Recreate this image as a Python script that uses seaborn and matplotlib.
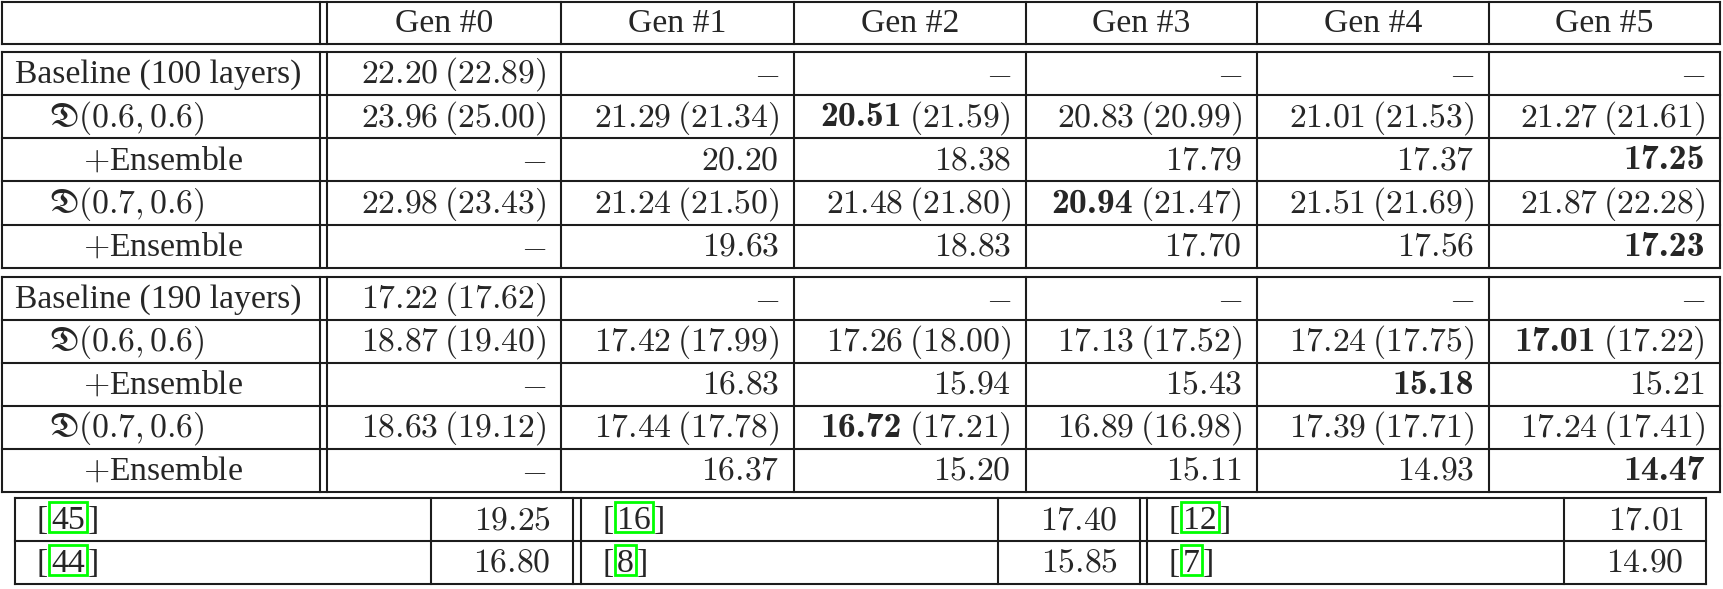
import os
import numpy as np
import matplotlib
matplotlib.use("Agg")
import matplotlib.pyplot as plt
from matplotlib.patches import Rectangle
from matplotlib.font_manager import FontProperties
import seaborn as sns

sns.set_style("white")
plt.rcParams['font.family'] = ['Liberation Serif', 'DejaVu Serif']
plt.rcParams['mathtext.fontset'] = 'cm'

# ---- data ----
gens = ['Gen #0', 'Gen #1', 'Gen #2', 'Gen #3', 'Gen #4', 'Gen #5']

labels_100 = ['Baseline (100 layers)', r'$\mathfrak{D}(0.6, 0.6)$', r'$+$Ensemble',
              r'$\mathfrak{D}(0.7, 0.6)$', r'$+$Ensemble']
labels_190 = ['Baseline (190 layers)', r'$\mathfrak{D}(0.6, 0.6)$', r'$+$Ensemble',
              r'$\mathfrak{D}(0.7, 0.6)$', r'$+$Ensemble']
indent = [0, 1, 2, 1, 2]

err_100 = [[22.20, None, None, None, None, None],
           [23.96, 21.29, 20.51, 20.83, 21.01, 21.27],
           [None, 20.20, 18.38, 17.79, 17.37, 17.25],
           [22.98, 21.24, 21.48, 20.94, 21.51, 21.87],
           [None, 19.63, 18.83, 17.70, 17.56, 17.23]]
paren_100 = [[22.89, None, None, None, None, None],
             [25.00, 21.34, 21.59, 20.99, 21.53, 21.61],
             [None] * 6,
             [23.43, 21.50, 21.80, 21.47, 21.69, 22.28],
             [None] * 6]
best_100 = [None, 2, 5, 3, 5]

err_190 = [[17.22, None, None, None, None, None],
           [18.87, 17.42, 17.26, 17.13, 17.24, 17.01],
           [None, 16.83, 15.94, 15.43, 15.18, 15.21],
           [18.63, 17.44, 16.72, 16.89, 17.39, 17.24],
           [None, 16.37, 15.20, 15.11, 14.93, 14.47]]
paren_190 = [[17.62, None, None, None, None, None],
             [19.40, 17.99, 18.00, 17.52, 17.75, 17.22],
             [None] * 6,
             [19.12, 17.78, 17.21, 16.98, 17.71, 17.41],
             [None] * 6]
best_190 = [None, 5, 4, 2, 5]

ref_ids = [['45', '44'], ['16', '8'], ['12', '7']]
ref_vals = [[19.25, 16.80], [17.40, 15.85], [17.01, 14.90]]

# ---- layout (pixel units) ----
W, H = 1724, 589
FS = 24.3
LW = 1.5
LC = '#1c1c1c'

x_first = (2, 320)
x_gen = [327, 561, 794, 1026, 1257, 1489, 1720]
y_head = (2, 44)
y_blk1 = np.linspace(51.5, 268, 6)
y_blk2 = np.linspace(277, 492, 6)
y_bot = [498, 541, 584]
x_bot = [(15, 431, 573), (581, 998, 1140), (1147, 1564, 1706)]
base_off = 12
gap = 0.222 * FS * 100 / 72

# bold numbers: CM bold face, a little larger to get closer to the extended bold width
cm_bold_path = os.path.join(matplotlib.get_data_path(), 'fonts', 'ttf', 'cmb10.ttf')
cm_bold = FontProperties(fname=cm_bold_path, size=FS * 1.06)

fig = plt.figure(figsize=(W / 100, H / 100), dpi=100)
ax = fig.add_axes([0, 0, 1, 1])
ax.set_xlim(0, W)
ax.set_ylim(H, 0)
ax.axis('off')
fig.canvas.draw()
renderer = fig.canvas.get_renderer()


def hline(y, x0, x1):
    ax.plot([x0, x1], [y, y], color=LC, lw=LW, solid_capstyle='projecting')


def vline(x, y0, y1):
    ax.plot([x, x], [y0, y1], color=LC, lw=LW, solid_capstyle='projecting')


def box_frame(y_edges):
    for y in y_edges:
        hline(y, x_first[0], x_gen[-1])
    for x in [x_first[0], x_first[1]] + x_gen:
        vline(x, y_edges[0], y_edges[-1])


def extent(t):
    inv = ax.transData.inverted()
    bb = t.get_window_extent(renderer)
    return inv.transform((bb.x0, bb.y0))[0], inv.transform((bb.x1, bb.y0))[0]


def draw_cell(xr, yb, v, p, bold):
    if v is None:
        ax.text(xr, yb, r'$-$', ha='right', va='baseline', fontsize=FS)
        return
    if not bold:
        s = '%.2f' % v
        if p is not None:
            s += r'\:(%.2f)' % p
        ax.text(xr, yb, '$' + s + '$', ha='right', va='baseline', fontsize=FS)
        return
    xb = xr
    if p is not None:
        tp = ax.text(xr, yb, r'$(%.2f)$' % p, ha='right', va='baseline', fontsize=FS)
        xb = extent(tp)[0] - gap
    ax.text(xb, yb, '%.2f' % v, ha='right', va='baseline', fontproperties=cm_bold)


# header
box_frame(list(y_head))
for j, g in enumerate(gens):
    ax.text((x_gen[j] + x_gen[j + 1]) / 2, y_head[1] - base_off, g,
            ha='center', va='baseline', fontsize=FS)


def draw_block(y_edges, labels, errs, parens, best):
    box_frame(y_edges)
    for i in range(len(labels)):
        yb = y_edges[i + 1] - base_off
        ax.text(15 + indent[i] * 34, yb, labels[i], ha='left', va='baseline', fontsize=FS)
        for j in range(len(gens)):
            draw_cell(x_gen[j + 1] - 15, yb, errs[i][j], parens[i][j], best[i] == j)


draw_block(y_blk1, labels_100, err_100, paren_100, best_100)
draw_block(y_blk2, labels_190, err_190, paren_190, best_190)

# bottom comparison table
for y in y_bot:
    hline(y, x_bot[0][0], x_bot[-1][2])
for xa, xb, xc in x_bot:
    for x in (xa, xb, xc):
        vline(x, y_bot[0], y_bot[-1])

for k, (xa, xb, xc) in enumerate(x_bot):
    for r in range(2):
        yb = y_bot[r + 1] - base_off
        t1 = ax.text(xa + 22, yb, '[', ha='left', va='baseline', fontsize=FS)
        bx0 = extent(t1)[1] + 1
        t2 = ax.text(bx0 + 2, yb, ref_ids[k][r], ha='left', va='baseline', fontsize=FS)
        bx1 = extent(t2)[1] + 2
        ax.add_patch(Rectangle((bx0, yb - 27), bx1 - bx0, 30, fill=False,
                               edgecolor='#00ff00', lw=2.0))
        ax.text(bx1 + 1, yb, ']', ha='left', va='baseline', fontsize=FS)
        ax.text(xc - 22, yb, '$%.2f$' % ref_vals[k][r], ha='right', va='baseline', fontsize=FS)

fig.savefig('out.png', dpi=100)
